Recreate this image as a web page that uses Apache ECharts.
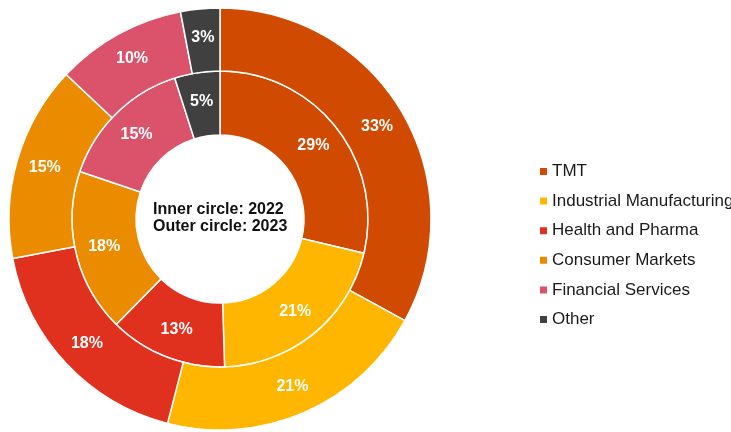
<!DOCTYPE html>
<html>
<head>
<meta charset="utf-8">
<script src="https://cdn.jsdelivr.net/npm/echarts@6/dist/echarts.min.js"></script>
<style>
html,body{margin:0;padding:0;background:#fff;}
#main{width:731px;height:432px;}
</style>
</head>
<body>
<div id="main"></div>
<script>
var sectors=['TMT','Industrial Manufacturing','Health and Pharma','Consumer Markets','Financial Services','Other']
var inner2022=[29,21,13,18,15,5]
var outer2023=[33,21,18,15,10,3]
var colors=['#d04a02','#ffb600','#e0301e','#eb8c00','#db536a','#404041']

function toData(vals){
	var arr=[]
	for(var k=0;k<vals.length;k++){
		arr.push({name:sectors[k],value:vals[k]})
	}
	return arr
}

var chart=echarts.init(document.getElementById('main'))
var labelStyle={
	show:true,
	position:'inside',
	formatter:'{c}%',
	color:'#fff',
	fontSize:16,
	fontWeight:'bold',
	fontFamily:'Liberation Sans, Arial, sans-serif'
}
var option={
	animation:false,
	color:colors,
	title:{
		text:'Inner circle: 2022\nOuter circle: 2023',
		left:153,
		top:201,
		padding:0,
		textStyle:{
			color:'#111',
			fontSize:16,
			fontWeight:'bold',
			lineHeight:17,
			fontFamily:'Liberation Sans, Arial, sans-serif'
		}
	},
	legend:{
		orient:'vertical',
		left:533,
		top:158,
		icon:'rect',
		itemWidth:9,
		itemHeight:9,
		itemGap:12.6,
		data:sectors,
		textStyle:{
			color:'#1a1a1a',
			fontSize:17,
			padding:[0,0,0,-1],
			fontFamily:'Liberation Sans, Arial, sans-serif'
		}
	},
	series:[
		{
			name:'2022',
			type:'pie',
			center:[220,219],
			radius:[84,148],
			startAngle:90,
			clockwise:true,
			label:labelStyle,
			labelLine:{show:false},
			itemStyle:{borderColor:'#fff',borderWidth:1.5},
			data:toData(inner2022)
		},
		{
			name:'2023',
			type:'pie',
			center:[220,219],
			radius:[148,211],
			startAngle:90,
			clockwise:true,
			label:labelStyle,
			labelLine:{show:false},
			itemStyle:{borderColor:'#fff',borderWidth:1.5},
			data:toData(outer2023)
		}
	]
}
chart.setOption(option)
</script>
</body>
</html>
